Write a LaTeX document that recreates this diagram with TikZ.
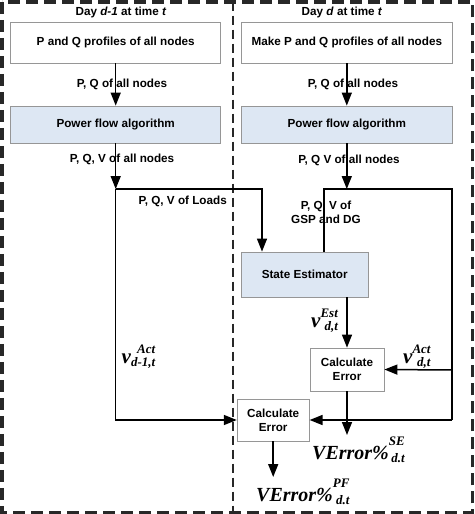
\documentclass[tikz,border=0pt]{standalone}
\usepackage{fontspec}
\setmainfont{Liberation Sans}
\newfontfamily\tms{Liberation Serif}
\usetikzlibrary{arrows.meta}
\definecolor{pfblue}{RGB}{221,231,243}
\definecolor{bordergray}{RGB}{150,150,150}
\definecolor{dashgray}{RGB}{40,40,40}
\newcommand\mlab[5]{{\tms\bfseries\itshape\fontsize{#1}{#1}\selectfont #2\fontsize{13}{12}\selectfont\raisebox{-3pt}{\begin{tabular}[b]{@{}r@{}}#3\\[#5]#4\end{tabular}}}}
\tikzset{
  lbl/.style={font=\bfseries\fontsize{11.7}{14}\selectfont, inner sep=0pt},
  procbox/.style={draw=bordergray, line width=0.8pt, fill=white, font=\bfseries\fontsize{11.7}{14}\selectfont, inner sep=0pt, align=center},
  bluebox/.style={procbox, fill=pfblue},
  conn/.style={line width=1.5pt, -{Triangle[length=13pt,width=10pt]}},
  plain/.style={line width=1.5pt},
  mathlbl/.style={inner sep=0pt, anchor=base west}
}
\begin{document}
\begin{tikzpicture}[x=1pt,y=-1pt]
\useasboundingbox (0,0) rectangle (474,514);
% panels
\draw[dashgray, line width=3.5pt, dash pattern=on 12pt off 6pt] (1.75,1.75) rectangle (472.25,512.25);
\draw[dashgray, line width=1.3pt, dash pattern=on 9pt off 5pt] (233,1.5) -- (233,512.5);
% headings
\node[lbl] (dayL) at (121,12) {Day \textit{d-1} at time \textit{t}};
\node[lbl] (dayR) at (342,12) {Day \textit{d} at time \textit{t}};
% boxes
\node[procbox, minimum width=210pt, minimum height=41pt] (L1) at (115.7,42.5) {P and Q profiles of all nodes};
\node[bluebox, minimum width=210pt, minimum height=37pt] (L2) at (115.7,124.5) {Power flow algorithm};
\node[procbox, minimum width=211pt, minimum height=41pt] (R1) at (346.8,42.5) {Make P and Q profiles of all nodes};
\node[bluebox, minimum width=211pt, minimum height=37pt] (R2) at (346.8,124.5) {Power flow algorithm};
\node[bluebox, minimum width=127pt, minimum height=45pt] (SE) at (304.7,274.5) {State Estimator};
\node[procbox, minimum width=74pt, minimum height=43pt] (CE1) at (347,369.5) {Calculate\\Error};
\node[procbox, minimum width=72pt, minimum height=42pt] (CE2) at (273.2,420) {Calculate\\Error};
% text labels
\node[lbl] (tL1) at (122,84) {P, Q of all nodes};
\node[lbl] (tR1) at (353,84) {P, Q of all nodes};
\node[lbl] (tL2) at (122,159) {P, Q, V of all nodes};
\node[lbl] (tR2) at (349,160) {P, Q V of all nodes};
\node[lbl, anchor=east] (tLoads) at (227,201) {P, Q, V of Loads};
\node[lbl, align=center] (tGSP) at (326,212) {P, Q, V of\\GSP and DG};
% coordinates
\coordinate (jL) at (115.7,189);
\coordinate (cL1) at (262,189);
\coordinate (cL2) at (115.7,420);
\coordinate (jR) at (346.8,189);
\coordinate (cR1) at (324,189);
\coordinate (cR2) at (452,189);
\coordinate (cR3) at (452,420);
\coordinate (cR4) at (452,370);
\coordinate (eSE) at (347,435);
\coordinate (ePF) at (273.2,477);
% connectors
\draw[conn] (L1.south) -- (L2.north);
\draw[conn] (L2.south) -- (jL);
\draw[conn] (jL) -- (cL1) -- (cL1 |- SE.north);
\draw[conn] (jL) -- (cL2) -- (CE2.west);
\draw[conn] (R1.south) -- (R2.north);
\draw[conn] (R2.south) -- (jR);
\draw[plain] (cR1 |- SE.north) -- (cR1) -- (cR2) -- (cR3);
\draw[conn] (cR3) -- (CE2.east);
\draw[conn] (cR4) -- (CE1.east);
\draw[conn] (SE.south -| CE1.north) -- (CE1.north);
\draw[conn] (CE1.south) -- (eSE);
\draw[conn] (CE2.south) -- (ePF);
% math labels
\node[mathlbl] (vL) at (121.5,363) {\mlab{21}{v}{Act}{d-1,t}{0pt}};
\node[mathlbl] (vEst) at (311,327) {\mlab{21}{v}{Est}{d,t}{0pt}};
\node[mathlbl] (vAct) at (403,363) {\mlab{21}{v}{Act}{d,t}{0pt}};
\node[mathlbl] (errSE) at (312,459) {\mlab{20}{VError\%}{SE}{d.t}{4pt}};
\node[mathlbl] (errPF) at (256,501) {\mlab{20}{VError\%}{PF}{d.t}{4pt}};
\end{tikzpicture}
\end{document}
